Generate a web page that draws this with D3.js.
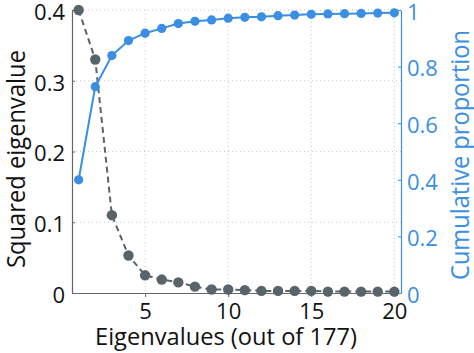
<!DOCTYPE html>
<html>
<head>
<meta charset="utf-8">
<script src="https://cdn.jsdelivr.net/npm/d3@7"></script>
<style>
  body { margin: 0; background: #fff; }
  svg text { font-family: "Open Sans", sans-serif; }
</style>
</head>
<body>
<div id="chart"></div>
<script>
// values
var ranks = d3.range(1, 21);
var squaredEig = [0.4, 0.33, 0.11, 0.053, 0.025, 0.019, 0.015, 0.009, 0.005, 0.005,
                  0.004, 0.003, 0.003, 0.003, 0.003, 0.002, 0.002, 0.002, 0.002, 0.002];
var cumProp = [0.40, 0.729, 0.839, 0.892, 0.918, 0.935, 0.952, 0.960, 0.965, 0.971,
               0.974, 0.976, 0.980, 0.982, 0.985, 0.986, 0.987, 0.988, 0.989, 0.990];
var xTicks = [5, 10, 15, 20];
var leftTicks = [0, 0.1, 0.2, 0.3, 0.4];
var rightTicks = [0, 0.2, 0.4, 0.6, 0.8, 1];

var margin = { top: 10, right: 73, bottom: 60, left: 72 },
    width = 474 - margin.left - margin.right,
    height = 353 - margin.top - margin.bottom;

var gray = "#58646a",
    blue = "#3a8fe2",
    tickFont = 22;

var xScale = d3.scaleLinear()
    .domain([0.6, 20.4])
    .range([0, width]);

var yLeft = d3.scaleLinear()
    .domain([0, 0.4])
    .range([height, 0]);

var yRight = d3.scaleLinear()
    .domain([0, 1])
    .range([height, 0]);

var svg = d3.select("#chart").append("svg")
    .attr("width", width + margin.left + margin.right)
    .attr("height", height + margin.top + margin.bottom)
  .append("g")
    .attr("transform", "translate(" + margin.left + "," + margin.top + ")");

// dotted grid
var grid = svg.append("g")
    .attr("stroke", "#c8c8c8")
    .attr("stroke-width", 1)
    .attr("stroke-dasharray", "1,3");

grid.selectAll(".vg")
    .data(xTicks)
  .enter().append("line")
    .attr("x1", function(d) { return xScale(d); })
    .attr("x2", function(d) { return xScale(d); })
    .attr("y1", 0)
    .attr("y2", height);

grid.selectAll(".hg")
    .data(leftTicks.slice(1))
  .enter().append("line")
    .attr("x1", 0)
    .attr("x2", width)
    .attr("y1", function(d) { return yLeft(d); })
    .attr("y2", function(d) { return yLeft(d); });

// axes
var xAxis = svg.append("g")
    .attr("transform", "translate(0," + height + ")")
    .call(d3.axisBottom(xScale).tickValues(xTicks).tickSize(4).tickSizeOuter(0).tickPadding(6));

xAxis.select(".domain").attr("stroke", "#666").attr("stroke-width", 1.2);
xAxis.selectAll(".tick line").attr("stroke", "#666");
xAxis.selectAll(".tick text").attr("font-size", tickFont).attr("fill", "#111");

var leftAxis = svg.append("g")
    .call(d3.axisLeft(yLeft).tickValues(leftTicks).tickSize(-3).tickSizeOuter(0).tickPadding(7)
      .tickFormat(function(d) { return d === 0 ? "0" : d3.format(".1f")(d); }));

leftAxis.select(".domain").attr("stroke", "#666").attr("stroke-width", 1.2);
leftAxis.selectAll(".tick line").attr("stroke", "#666");
leftAxis.selectAll(".tick text").attr("font-size", tickFont).attr("dy", "0.42em").attr("fill", "#111");

var rightAxis = svg.append("g")
    .attr("transform", "translate(" + width + ",0)")
    .call(d3.axisRight(yRight).tickValues(rightTicks).tickSize(-3).tickSizeOuter(0).tickPadding(6)
      .tickFormat(function(d) { return d === 0 || d === 1 ? d : d3.format(".1f")(d); }));

rightAxis.select(".domain").attr("stroke", blue).attr("stroke-width", 1.2);
rightAxis.selectAll(".tick line").attr("stroke", blue);
rightAxis.selectAll(".tick text").attr("font-size", tickFont).attr("dy", "0.42em").attr("fill", blue);

// squared eigenvalues: dashed gray
var eigLine = d3.line()
    .x(function(d, i) { return xScale(ranks[i]); })
    .y(function(d) { return yLeft(d); });

svg.append("path")
    .datum(squaredEig)
    .attr("fill", "none")
    .attr("stroke", gray)
    .attr("stroke-width", 2)
    .attr("stroke-dasharray", "6,4")
    .attr("d", eigLine);

svg.append("g").selectAll("circle")
    .data(squaredEig)
  .enter().append("circle")
    .attr("cx", function(d, i) { return xScale(ranks[i]); })
    .attr("cy", function(d) { return yLeft(d); })
    .attr("r", 5.2)
    .attr("fill", gray);

// cumulative proportion: solid blue
var cumLine = d3.line()
    .x(function(d, i) { return xScale(ranks[i]); })
    .y(function(d) { return yRight(d); });

svg.append("path")
    .datum(cumProp)
    .attr("fill", "none")
    .attr("stroke", blue)
    .attr("stroke-width", 2)
    .attr("d", cumLine);

svg.append("g").selectAll("circle")
    .data(cumProp)
  .enter().append("circle")
    .attr("cx", function(d, i) { return xScale(ranks[i]); })
    .attr("cy", function(d) { return yRight(d); })
    .attr("r", 4.6)
    .attr("fill", blue);

// axis titles (positions in page pixels)
var titles = svg.append("g")
    .attr("transform", "translate(" + (-margin.left) + "," + (-margin.top) + ")");

titles.append("text")
    .attr("x", 226)
    .attr("y", 345)
    .attr("text-anchor", "middle")
    .attr("font-size", 24.5)
    .attr("textLength", 262)
    .attr("lengthAdjust", "spacingAndGlyphs")
    .attr("fill", "#111")
    .text("Eigenvalues (out of 177)");

titles.append("text")
    .attr("transform", "translate(25,159) rotate(-90)")
    .attr("text-anchor", "middle")
    .attr("font-size", 25)
    .attr("textLength", 218)
    .attr("lengthAdjust", "spacingAndGlyphs")
    .attr("fill", "#111")
    .text("Squared eigenvalue");

titles.append("text")
    .attr("transform", "translate(469,155) rotate(-90)")
    .attr("text-anchor", "middle")
    .attr("font-size", 25)
    .attr("textLength", 250)
    .attr("lengthAdjust", "spacingAndGlyphs")
    .attr("fill", blue)
    .text("Cumulative proportion");
</script>
</body>
</html>
